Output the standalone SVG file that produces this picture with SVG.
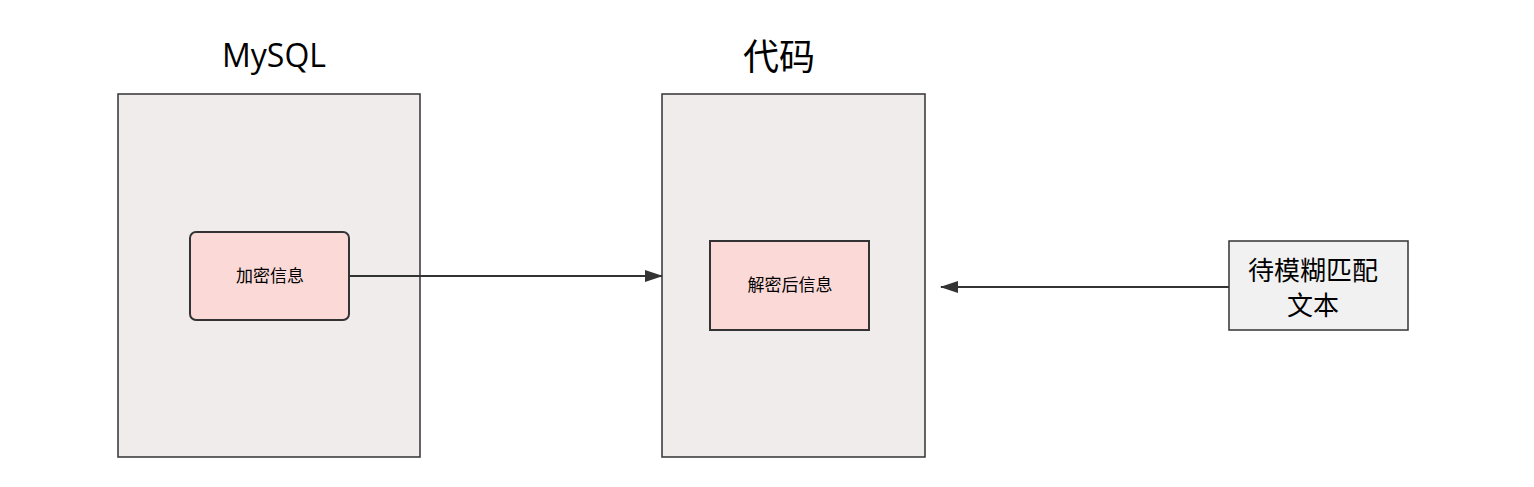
<svg xmlns="http://www.w3.org/2000/svg" width="1534" height="487" viewBox="0 0 1534 487">
<style>
.big{fill:#f0eceb;stroke:#333;stroke-width:1.5}
.pink{fill:#fad9d7;stroke:#333;stroke-width:2}
.t{font-family:"Open Sans","Noto Sans CJK SC",sans-serif;fill:#000;text-anchor:middle}
</style>
<defs><marker id="a" markerWidth="18" markerHeight="12" refX="17" refY="6" orient="auto" markerUnits="userSpaceOnUse"><path d="M0,0 L18,6 L0,12 Z" fill="#333"/></marker></defs>
<rect width="1534" height="487" fill="#fff"/>
<g id="mysql"><rect class="big" x="118" y="94" width="302" height="363"/><text class="t" x="274" y="67" font-size="32">MySQL</text></g>
<g id="code"><rect class="big" x="662" y="94" width="263" height="363"/><text class="t" x="779" y="70" font-size="36">代码</text></g>
<g id="enc"><rect class="pink" x="190" y="232" width="159" height="88" rx="6"/><text class="t" x="270" y="282" font-size="17">加密信息</text></g>
<g id="dec"><rect class="pink" x="710" y="241" width="159" height="89"/><text class="t" x="790" y="291" font-size="17">解密后信息</text></g>
<g id="fuzzy"><rect x="1229" y="241" width="179" height="89" fill="#f1f1f1" stroke="#333" stroke-width="1.5"/><text class="t" x="1313" y="280" font-size="26">待模糊匹配</text><text class="t" x="1313" y="315" font-size="26">文本</text></g>
<g id="connectors" stroke="#333" stroke-width="2" fill="none">
<path d="M350,276 H662" marker-end="url(#a)"/>
<path d="M1229,287 H941" marker-end="url(#a)"/>
</g>
</svg>
